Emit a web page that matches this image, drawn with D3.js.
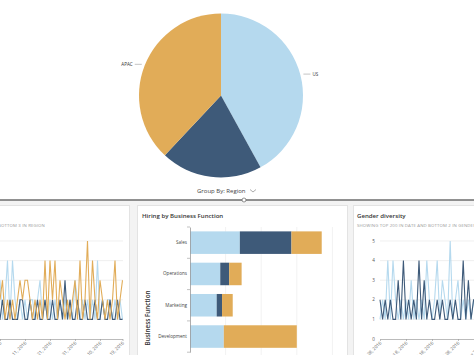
<!DOCTYPE html>
<html><head><meta charset="utf-8">
<script src="https://cdn.jsdelivr.net/npm/d3@7"></script>
<style>
html,body{margin:0;padding:0;background:#fff;}
svg{display:block;font-family:"Open Sans","Noto Sans",sans-serif;}
</style></head><body>
<svg id="c" width="474" height="355"></svg>
<script>
// ---------- data ----------
const regions = ["US", "EMEA", "APAC"];
const regionShares = [42, 20, 38];
const regionLabels = ["US", "", "APAC"];

const functions = ["Sales", "Operations", "Marketing", "Development"];
const fnUS   = [28, 17, 15, 19];
const fnEMEA = [29, 5, 3, 0];
const fnAPAC = [17, 7, 6, 41];
const barGridTicks = [20, 40, 60, 80];

const lineYTicks = [0, 1, 2, 3, 4, 5];

// left panel: daily from 2016-09-30
const leftStart = "2016-09-30";
const leftUS   = [2,3,1,2,4,1,4,2,1,2,1,2,1,2,2,1,2,3,1,2,1,2,1,2,1,2,1,2,1,2,1,3,2,1,2,1,2,1,2,1,4,1,2,1,2,2,1,2,1,2,1];
const leftEMEA = [1,1,2,1,1,2,1,1,1,2,2,1,1,2,1,1,2,1,1,2,1,1,2,1,1,2,1,3,1,2,1,1,2,1,1,2,1,1,1,2,1,1,2,1,1,2,1,1,2,1,1];
const leftAPAC = [3,2,3,1,2,1,2,1,2,3,2,3,3,2,1,2,1,2,1,4,1,4,2,4,1,3,2,1,2,1,2,3,1,4,1,2,5,1,4,2,1,3,2,1,2,1,2,4,1,2,3];
const leftTicks = ["2016-10-01","2016-10-11","2016-10-21","2016-10-31","2016-11-10","2016-11-19"];

// right panel: daily from 2016-06-28
const rightStart = "2016-06-28";
const rightFemale = [1,2,1,4,1,4,2,1,2,1,2,1,3,1,2,1,2,1,4,2,1,2,4,1,3,2,1,5,1,2,3,1,2,1,2,1,2,1];
const rightMale   = [2,1,2,1,2,1,1,3,1,4,1,2,1,2,1,4,1,3,1,2,1,1,2,1,2,1,1,2,1,2,1,1,4,1,3,1,2,2];
const rightTicks = ["2016-06-28","2016-07-08","2016-07-18","2016-07-28","2016-08-07"];

const cLight = "#b5d9ee", cDark = "#3e5a79", cOrange = "#e1ac58";
const regionColors = [cLight, cDark, cOrange];

// ---------- setup ----------
const svg = d3.select("#c");
const parse = d3.timeParse("%Y-%m-%d");
const fmt = d3.timeFormat("%b %-d, %Y");

// bottom background
svg.append("rect").attr("x",0).attr("y",200).attr("width",474).attr("height",155).attr("fill","#f3f3f3");

// ---------- pie ----------
const cx = 221, cy = 95.5, R = 82;
const pie = d3.pie().sort(null).value(d => d.v);
const arcs = pie(regions.map((r,i)=>({r, v: regionShares[i], label: regionLabels[i], color: regionColors[i]})));
const arc = d3.arc().innerRadius(0).outerRadius(R);
const gp = svg.append("g").attr("transform",`translate(${cx},${cy})`);
gp.selectAll("path").data(arcs).join("path").attr("d",arc).attr("fill",d=>d.data.color);
arcs.filter(d=>d.data.label).forEach(d=>{
  const a = (d.startAngle+d.endAngle)/2;
  const ex = Math.sin(a)*R, ey = -Math.cos(a)*R;
  const dir = ex >= 0 ? 1 : -1;
  gp.append("line").attr("x1",ex+3*dir).attr("x2",ex+10*dir).attr("y1",ey-1).attr("y2",ey-1)
    .attr("stroke","#aaa").attr("stroke-width",0.7);
  gp.append("text").attr("x",ex+12*dir).attr("y",ey+0.6).attr("text-anchor",dir>0?"start":"end")
    .attr("font-size",4.6).attr("fill","#333").text(d.data.label);
});

// group by
svg.append("text").attr("x",197).attr("y",193).attr("font-size",6).attr("fill","#444").text("Group By: Region");
svg.append("path").attr("d","M250,189.5 L253,192 L256,189.5").attr("fill","none").attr("stroke","#888").attr("stroke-width",0.7);

// separator
svg.append("line").attr("x1",0).attr("x2",474).attr("y1",200).attr("y2",200).attr("stroke","#6d6d6d").attr("stroke-width",1.3);
svg.append("circle").attr("cx",244).attr("cy",200).attr("r",2).attr("fill","#fff").attr("stroke","#666").attr("stroke-width",0.7);

// panels
const panels = [[-10,205,139,160],[137,205,210,160],[353,205,130,160]];
panels.forEach(p=>svg.append("rect").attr("x",p[0]+0.5).attr("y",p[1]+0.5).attr("width",p[2]).attr("height",p[3])
  .attr("fill","#fff").attr("stroke","#e3e3e3").attr("stroke-width",1));
const defs = svg.append("defs");
panels.forEach((p,i)=>defs.append("clipPath").attr("id","cp"+i).append("rect")
  .attr("x",p[0]+1).attr("y",p[1]+1).attr("width",p[2]-1).attr("height",p[3]));

// ---------- line chart helper ----------
const y = d3.scaleLinear().domain([0,5]).range([339,241]);
function lineChart(g, x, dates, series, ticks, gx0, gx1, showY){
  g.selectAll(".grid").data(lineYTicks.filter(t=>t>0)).join("line")
    .attr("x1",gx0).attr("x2",gx1).attr("y1",d=>y(d)).attr("y2",d=>y(d))
    .attr("stroke","#e9e9e9").attr("stroke-width",0.7);
  if(showY){
    g.selectAll(".yl").data(lineYTicks).join("text")
      .attr("x",gx0-5).attr("y",d=>y(d)+1.6).attr("text-anchor","end")
      .attr("font-size",4.6).attr("fill","#555").text(d=>d);
  }
  const ax = g.append("g").attr("transform",`translate(0,${y(0)})`)
    .call(d3.axisBottom(x).tickValues(ticks.map(parse)).tickFormat(fmt).tickSize(2).tickSizeOuter(0));
  ax.select(".domain").attr("stroke","#aaa").attr("stroke-width",0.8);
  ax.selectAll(".tick line").attr("stroke","#999").attr("stroke-width",0.6);
  ax.selectAll(".tick text").attr("font-size",4.6).attr("fill","#666").attr("font-family","Open Sans")
    .attr("text-anchor","end").attr("transform","translate(-2,1) rotate(-45)").attr("dy","0.35em").attr("y",3);
  const line = d3.line().x((d,i)=>x(dates[i])).y(d=>y(d));
  series.forEach(s=>{
    g.append("path").datum(s.values).attr("d",line).attr("fill","none")
      .attr("stroke",s.color).attr("stroke-width",1.1).attr("stroke-linejoin","miter");
  });
}

// left panel
const gL = svg.append("g").attr("clip-path","url(#cp0)");
const lStart = parse(leftStart);
const lDates = d3.timeDay.range(lStart, d3.timeDay.offset(lStart, leftUS.length));
const xL = d3.scaleTime().domain([parse("2016-09-01"), parse("2016-11-19")]).range([-75, 122.5]);
gL.append("text").attr("x",45).attr("y",227).attr("text-anchor","end").attr("font-size",4.3)
  .attr("fill","#999").attr("letter-spacing",0.15).text("SHOWING TOP 200 IN DATE AND BOTTOM 3 IN REGION");
lineChart(gL, xL, lDates, [
  {values:leftUS, color:cLight},
  {values:leftEMEA, color:cDark},
  {values:leftAPAC, color:cOrange}
], leftTicks, -80, 123, false);

// right panel
const gR = svg.append("g").attr("clip-path","url(#cp2)");
const rStart = parse(rightStart);
const rDates = d3.timeDay.range(rStart, d3.timeDay.offset(rStart, rightMale.length));
const xR = d3.scaleTime().domain([rStart, parse("2016-08-31")]).range([380, 380+64*2.6]);
gR.append("text").attr("x",357).attr("y",218).attr("font-size",6.1).attr("font-weight",600).attr("fill","#333").text("Gender diversity");
gR.append("text").attr("x",357).attr("y",226.5).attr("font-size",4.3).attr("fill","#999").attr("letter-spacing",0.15)
  .text("SHOWING TOP 200 IN DATE AND BOTTOM 2 IN GENDER");
lineChart(gR, xR, rDates, [
  {values:rightFemale, color:cLight},
  {values:rightMale, color:cDark}
], rightTicks, 380, 480, true);

// ---------- middle bar chart ----------
const gM = svg.append("g").attr("clip-path","url(#cp1)");
gM.append("text").attr("x",142).attr("y",218).attr("font-size",6.1).attr("font-weight",600).attr("fill","#333").text("Hiring by Business Function");
const xB = d3.scaleLinear().domain([0,100]).range([190,368]);
const yB = d3.scaleBand().domain(functions).range([227,352.2]).paddingInner(0.28).paddingOuter(0.14);
gM.selectAll(".vg").data(barGridTicks).join("line")
  .attr("x1",d=>xB(d)).attr("x2",d=>xB(d)).attr("y1",227).attr("y2",360)
  .attr("stroke","#ececec").attr("stroke-width",0.7);
const rows = functions.map((f,i)=>({f, US:fnUS[i], EMEA:fnEMEA[i], APAC:fnAPAC[i]}));
const stack = d3.stack().keys(regions)(rows);
stack.forEach((layer,k)=>{
  gM.selectAll(".b"+k).data(layer).join("rect")
    .attr("x",d=>xB(d[0])).attr("width",d=>xB(d[1])-xB(d[0]))
    .attr("y",d=>yB(d.data.f)).attr("height",yB.bandwidth())
    .attr("fill",regionColors[k]);
});
const yAx = gM.append("g").attr("transform","translate(190,0)")
  .call(d3.axisLeft(yB).tickSize(0).tickPadding(3));
yAx.select(".domain").attr("stroke","#999").attr("stroke-width",0.8);
yAx.selectAll(".tick text").attr("font-size",4.6).attr("fill","#444").attr("font-family","Open Sans");
const bounds = d3.range(functions.length+1).map(i=>yB.range()[0]+i*yB.step());
gM.selectAll(".bt").data(bounds).join("line")
  .attr("x1",187).attr("x2",190).attr("y1",d=>d).attr("y2",d=>d).attr("stroke","#999").attr("stroke-width",0.6);
gM.append("text").attr("transform","translate(150,318) rotate(-90)").attr("text-anchor","middle")
  .attr("font-size",6.3).attr("font-weight",600).attr("fill","#333").text("Business Function");
</script>
</body></html>
